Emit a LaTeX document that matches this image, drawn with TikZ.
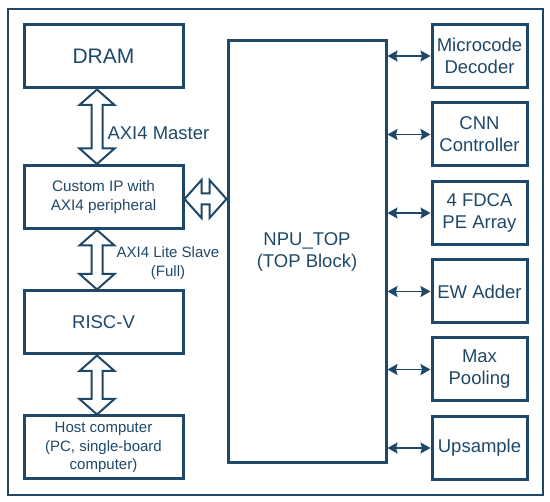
\documentclass[tikz,border=0pt]{standalone}
\usepackage{fontspec}
\setmainfont{Liberation Sans}
\usetikzlibrary{calc,arrows.meta}
\definecolor{navy}{RGB}{31,72,104}
% vertical fat double arrow: #1 x (pt), #2 upper anchor, #3 lower anchor
\newcommand\vfatarrow[3]{%
  \draw[fat] let \p1=(#2), \p2=(#3) in
    (#1pt,\y1) -- ({#1pt+17.5pt},{\y1-15.5pt}) -- ({#1pt+5.5pt},{\y1-15.5pt})
    -- ({#1pt+5.5pt},{\y2+15.5pt}) -- ({#1pt+17.5pt},{\y2+15.5pt}) -- (#1pt,\y2)
    -- ({#1pt-17.5pt},{\y2+15.5pt}) -- ({#1pt-5.5pt},{\y2+15.5pt})
    -- ({#1pt-5.5pt},{\y1-15.5pt}) -- ({#1pt-17.5pt},{\y1-15.5pt}) -- cycle;}
% horizontal fat double arrow: #1 y (pt, canvas), #2 left anchor, #3 right anchor
\newcommand\hfatarrow[3]{%
  \draw[fat] let \p1=(#2), \p2=(#3) in
    (\x1,#1pt) -- ({\x1+17pt},{#1pt+19pt}) -- ({\x1+17pt},{#1pt+5.5pt})
    -- ({\x2-17pt},{#1pt+5.5pt}) -- ({\x2-17pt},{#1pt+19pt}) -- (\x2,#1pt)
    -- ({\x2-17pt},{#1pt-19pt}) -- ({\x2-17pt},{#1pt-5.5pt})
    -- ({\x1+17pt},{#1pt-5.5pt}) -- ({\x1+17pt},{#1pt-19pt}) -- cycle;}
\begin{document}
\begin{tikzpicture}[x=1pt,y=-1pt,
  every node/.style={text=navy},
  lbox/.style={draw=navy,line width=3pt,minimum width=159pt,minimum height=63pt,inner sep=0pt,align=center},
  rbox/.style={draw=navy,line width=3pt,minimum width=95pt,minimum height=63pt,inner sep=0pt,align=center,font=\fontsize{18.5}{22}\selectfont},
  fat/.style={draw=navy,fill=white,line width=2pt,line join=miter},
  thin/.style={draw=navy,line width=1.5pt,{Stealth[length=10pt,width=11pt,inset=1.5pt]}-{Stealth[length=10pt,width=11pt,inset=1.5pt]}},
  lbl/.style={font=\fontsize{15}{19}\selectfont,align=center}
]
\useasboundingbox (0,0) rectangle (550,502);
\draw[navy,line width=2.5pt] (8,9) rectangle (543,495);
% left column
\node[lbox,font=\fontsize{21}{24}\selectfont] (dram) at (103.5,56.5) {DRAM};
\node[lbox,font=\fontsize{15.3}{19}\selectfont] (cip) at (103.5,197) {Custom IP with\\AXI4 peripheral};
\node[lbox,font=\fontsize{18.5}{22}\selectfont] (risc) at (103.5,322.5) {RISC-V};
\node[lbox,font=\fontsize{15}{18.5}\selectfont] (host) at (103.5,447.5) {Host computer\\(PC, single-board\\computer)};
% NPU
\node[draw=navy,line width=3pt,minimum width=158pt,minimum height=422pt,inner sep=0pt,align=center,font=\fontsize{18.5}{21.5}\selectfont] (npu) at (307,252) {NPU\_TOP\\(TOP Block)};
% right column
\node[rbox] (mc) at (479.5,56) {Microcode\\Decoder};
\node[rbox] (cnn) at (479.5,134.5) {CNN\\Controller};
\node[rbox] (pe) at (479.5,213) {4 FDCA\\PE Array};
\node[rbox] (ew) at (479.5,291.5) {EW Adder};
\node[rbox] (mp) at (479.5,369.5) {Max\\Pooling};
\node[rbox] (up) at (479.5,448) {Upsample};
% thin arrows
\foreach \n in {mc,cnn,pe,ew,mp,up}{
  \draw[thin] (npu.east |- \n.west) -- (\n.west);
}
% fat arrows
\vfatarrow{97}{dram.south}{cip.north}
\vfatarrow{97}{cip.south}{risc.north}
\vfatarrow{97}{risc.south}{host.north}
\hfatarrow{-199}{cip.east}{npu.west}
% labels
\node[anchor=west,font=\fontsize{18.5}{22}\selectfont] (l1) at (104,133) {AXI4 Master};
\node[lbl] (l2) at (168,263.5) {AXI4 Lite Slave\\(Full)};
\end{tikzpicture}
\end{document}
